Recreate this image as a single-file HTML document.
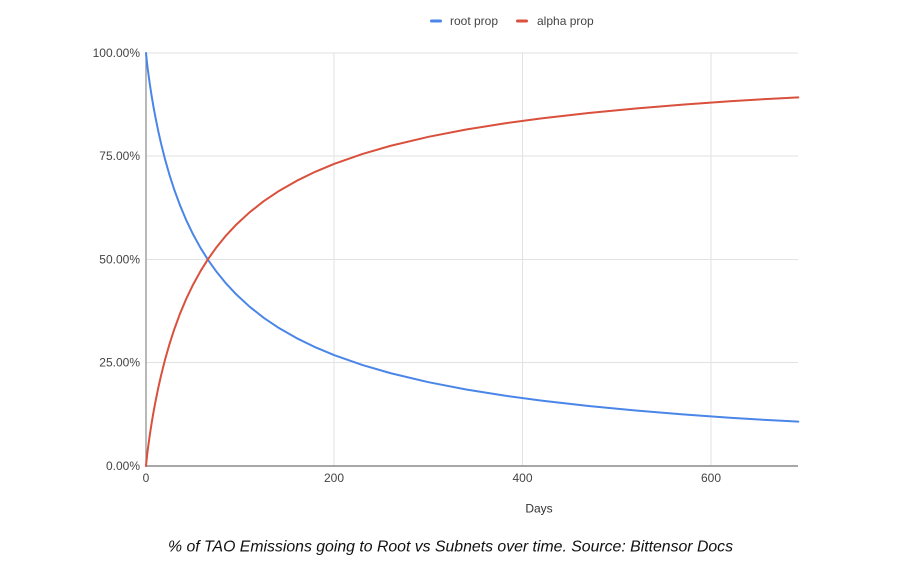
<!DOCTYPE html>
<html>
<head>
<meta charset="utf-8">
<style>
  html,body{margin:0;padding:0;background:#fff;}
  svg{display:block;}
  text{font-family:"Liberation Sans", Arial, sans-serif;}
</style>
</head>
<body>
<svg width="900" height="584" viewBox="0 0 900 584" xmlns="http://www.w3.org/2000/svg">
  <rect width="900" height="584" fill="#ffffff"/>

  <!-- legend -->
  <rect x="430" y="19.5" width="12" height="3" rx="1.5" fill="#4a86e8"/>
  <text x="450" y="25" font-size="12" fill="#444">root prop</text>
  <rect x="516" y="19.5" width="12" height="3" rx="1.5" fill="#d9503c"/>
  <text x="537" y="25" font-size="12" fill="#444">alpha prop</text>

  <!-- gridlines -->
  <g stroke="#e2e2e2" stroke-width="1">
    <line x1="146" y1="53" x2="798" y2="53"/>
    <line x1="146" y1="156" x2="798" y2="156"/>
    <line x1="146" y1="259.5" x2="798" y2="259.5"/>
    <line x1="146" y1="362.5" x2="798" y2="362.5"/>
    <line x1="334" y1="53" x2="334" y2="466"/>
    <line x1="522.5" y1="53" x2="522.5" y2="466"/>
    <line x1="711" y1="53" x2="711" y2="466"/>
  </g>
  <!-- axes -->
  <line x1="146" y1="53" x2="146" y2="466" stroke="#8a8a8a" stroke-width="1.2"/>
  <line x1="146" y1="466" x2="798" y2="466" stroke="#8a8a8a" stroke-width="1.5"/>

  <!-- y labels -->
  <g font-size="12" fill="#444" text-anchor="end">
    <text x="140" y="57">100.00%</text>
    <text x="140" y="160">75.00%</text>
    <text x="140" y="263.5">50.00%</text>
    <text x="140" y="366.5">25.00%</text>
    <text x="140" y="470">0.00%</text>
  </g>
  <!-- x labels -->
  <g font-size="12" fill="#444" text-anchor="middle">
    <text x="146" y="482">0</text>
    <text x="334" y="482">200</text>
    <text x="522.5" y="482">400</text>
    <text x="711" y="482">600</text>
  </g>
  <text x="539" y="512.5" font-size="12" fill="#333" text-anchor="middle">Days</text>

  <!-- series -->
  <path id="blue" fill="none" stroke="#4a86e8" stroke-width="2" stroke-linejoin="round" stroke-linecap="round"
    d="M146,53 L146.94,62.35 L147.88,70.11 L149.77,83.83 L151.65,95.99 L153.53,107.02 L155.42,117.18 L158.24,131.04 L161.07,143.56 L164.83,158.55 L169.54,175.10 L174.25,189.65 L179.90,205.05 L186.49,220.71 L193.09,234.39 L200.62,248.06 L208.15,260.07 L216.63,271.93 L226.04,283.47 L235.46,293.59 L249.59,306.69 L263.71,317.79 L277.84,327.33 L296.67,338.17 L315.51,347.34 L334.34,355.19 L362.59,365.09 L390.84,373.27 L428.51,382.20 L466.18,389.47 L503.85,395.52 L541.51,400.63 L588.60,406.00 L635.68,410.52 L682.77,414.37 L729.85,417.69 L767.52,420.04 L798.3,421.6"/>
  <path fill="none" stroke="#d9503c" stroke-width="2" stroke-linejoin="round" stroke-linecap="round"
    transform="translate(0,519) scale(1,-1)"
    d="M146,53 L146.94,62.35 L147.88,70.11 L149.77,83.83 L151.65,95.99 L153.53,107.02 L155.42,117.18 L158.24,131.04 L161.07,143.56 L164.83,158.55 L169.54,175.10 L174.25,189.65 L179.90,205.05 L186.49,220.71 L193.09,234.39 L200.62,248.06 L208.15,260.07 L216.63,271.93 L226.04,283.47 L235.46,293.59 L249.59,306.69 L263.71,317.79 L277.84,327.33 L296.67,338.17 L315.51,347.34 L334.34,355.19 L362.59,365.09 L390.84,373.27 L428.51,382.20 L466.18,389.47 L503.85,395.52 L541.51,400.63 L588.60,406.00 L635.68,410.52 L682.77,414.37 L729.85,417.69 L767.52,420.04 L798.3,421.6"/>

  <!-- caption -->
  <text x="168" y="551.5" font-size="15.8" font-style="italic" fill="#111" textLength="565" lengthAdjust="spacingAndGlyphs">% of TAO Emissions going to Root vs Subnets over time. Source: Bittensor Docs</text>
</svg>
</body>
</html>
